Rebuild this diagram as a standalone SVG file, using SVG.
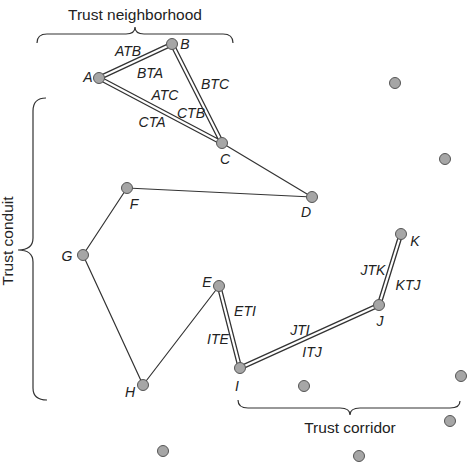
<svg xmlns="http://www.w3.org/2000/svg" width="474" height="474" viewBox="0 0 474 474">
<style>
.bg{fill:#fff}
.single{stroke:#333;stroke-width:1.2;fill:none}
.dbl-o{stroke:#333;stroke-width:4.8;fill:none;stroke-linecap:round}
.dbl-i{stroke:#fff;stroke-width:2.2;fill:none;stroke-linecap:round}
.brace{stroke:#333;stroke-width:1.2;fill:none}
.node{fill:#a6a6a6;stroke:#555;stroke-width:1}
.lbl{font-family:"Liberation Sans",Arial,sans-serif;font-style:italic;font-size:14px;fill:#222;text-anchor:middle}
.title{font-family:"Liberation Sans",Arial,sans-serif;font-size:15.5px;fill:#222;text-anchor:middle}
</style>
<rect class="bg" x="0" y="0" width="474" height="474"/>
<g id="braces">
<path class="brace" d="M37,43 Q37,34 47,34 L126,34 Q135,34 135,27 Q135,34 144,34 L223,34 Q233,34 233,43"/>
<path class="brace" d="M46,98 Q33,98 33,111 L33,238 Q33,250 18,250 Q33,250 33,262 L33,388 Q33,400 47,400"/>
<path class="brace" d="M238,400 Q238,408 248,408 L340,408 Q350,408 350,415 Q350,408 360,408 L450,408 Q460,408 460,401"/>
<text class="title" x="135" y="20">Trust neighborhood</text>
<text class="title" x="350" y="433">Trust corridor</text>
<text class="title" transform="translate(12.5,241) rotate(-90)">Trust conduit</text>
</g>
<g id="connectors">
<path class="single" d="M222,143 L312,197 M312,197 L127,188 M127,188 L83,255 M83,255 L143,385 M143,385 L219,286"/>
<path class="dbl-o" d="M99,78 L172,44 M99,78 L222,143 M172,44 L222,143 M219,286 L240,368 M240,368 L379,305 M379,305 L401,234"/>
<path class="dbl-i" d="M99,78 L172,44 M99,78 L222,143 M172,44 L222,143 M219,286 L240,368 M240,368 L379,305 M379,305 L401,234"/>
</g>
<g id="node-A"><circle class="node" cx="99" cy="78" r="5.5"/><text class="lbl" x="88" y="82">A</text></g>
<g id="node-B"><circle class="node" cx="172" cy="44" r="5.5"/><text class="lbl" x="185" y="49">B</text></g>
<g id="node-C"><circle class="node" cx="222" cy="143" r="5.5"/><text class="lbl" x="225" y="164">C</text></g>
<g id="node-D"><circle class="node" cx="312" cy="197" r="5.5"/><text class="lbl" x="306" y="217">D</text></g>
<g id="node-F"><circle class="node" cx="127" cy="188" r="5.5"/><text class="lbl" x="134" y="209">F</text></g>
<g id="node-G"><circle class="node" cx="83" cy="255" r="5.5"/><text class="lbl" x="67" y="261">G</text></g>
<g id="node-H"><circle class="node" cx="143" cy="385" r="5.5"/><text class="lbl" x="130" y="397">H</text></g>
<g id="node-E"><circle class="node" cx="219" cy="286" r="5.5"/><text class="lbl" x="207" y="287">E</text></g>
<g id="node-I"><circle class="node" cx="240" cy="368" r="5.5"/><text class="lbl" x="237" y="391">I</text></g>
<g id="node-J"><circle class="node" cx="379" cy="305" r="5.5"/><text class="lbl" x="380" y="326">J</text></g>
<g id="node-K"><circle class="node" cx="401" cy="234" r="5.5"/><text class="lbl" x="415" y="246">K</text></g>
<g id="edge-labels">
<text class="lbl" x="128" y="56">ATB</text>
<text class="lbl" x="150" y="78">BTA</text>
<text class="lbl" x="165" y="100">ATC</text>
<text class="lbl" x="215" y="89">BTC</text>
<text class="lbl" x="191" y="118">CTB</text>
<text class="lbl" x="152" y="127">CTA</text>
<text class="lbl" x="245" y="316">ETI</text>
<text class="lbl" x="218" y="344">ITE</text>
<text class="lbl" x="300" y="335">JTI</text>
<text class="lbl" x="312" y="357">ITJ</text>
<text class="lbl" x="373" y="275">JTK</text>
<text class="lbl" x="408" y="290">KTJ</text>
</g>
<g id="other-nodes">
<circle class="node" cx="395" cy="83" r="5.5"/>
<circle class="node" cx="445" cy="159" r="5.5"/>
<circle class="node" cx="304" cy="386" r="5.5"/>
<circle class="node" cx="461" cy="376" r="5.5"/>
<circle class="node" cx="450" cy="421" r="5.5"/>
<circle class="node" cx="163" cy="451" r="5.5"/>
<circle class="node" cx="359" cy="456" r="5.5"/>
</g>
</svg>
